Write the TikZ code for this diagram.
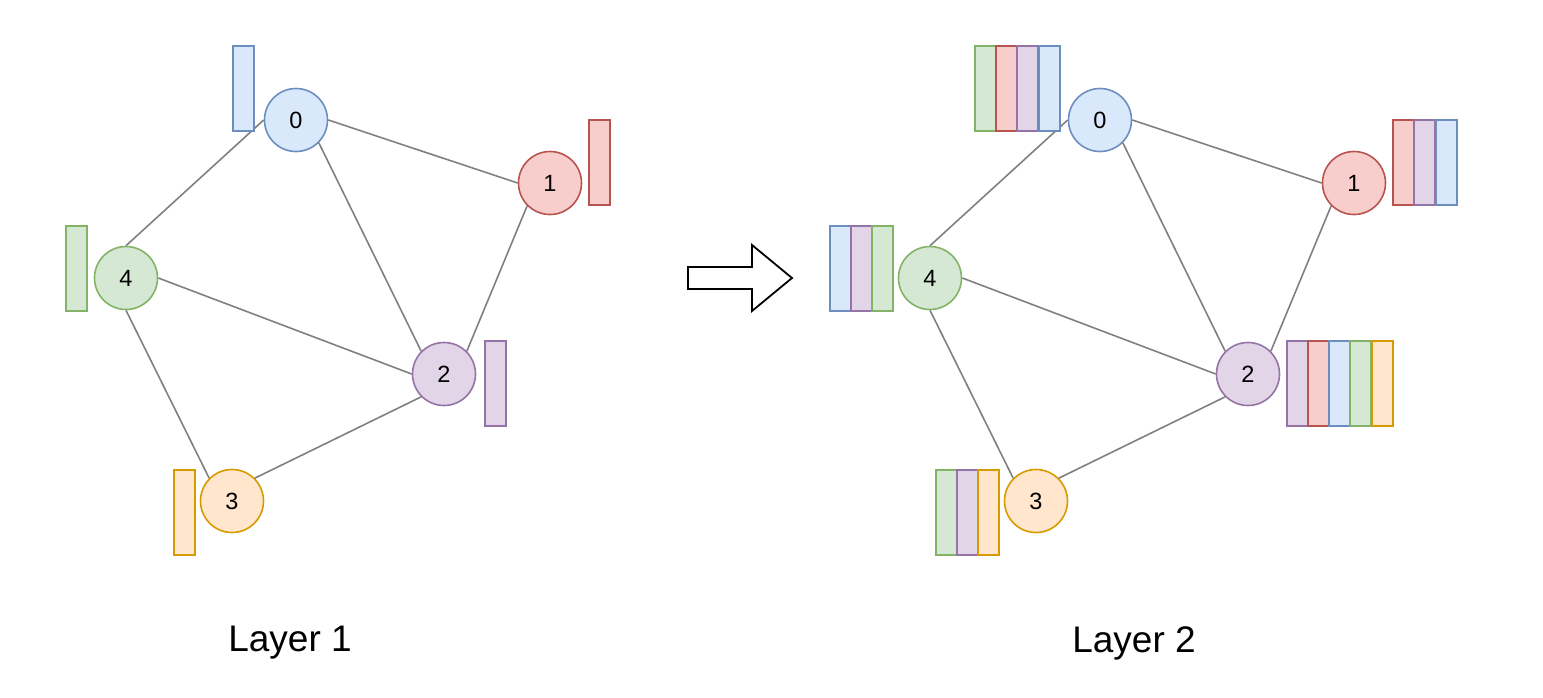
\documentclass[tikz,border=0pt]{standalone}
\usepackage{fontspec}
\setmainfont{Liberation Sans}
\definecolor{bfill}{HTML}{DAE8FC}\definecolor{bdraw}{HTML}{6C8EBF}
\definecolor{rfill}{HTML}{F8CECC}\definecolor{rdraw}{HTML}{B85450}
\definecolor{pfill}{HTML}{E1D5E7}\definecolor{pdraw}{HTML}{9673A6}
\definecolor{gfill}{HTML}{D5E8D4}\definecolor{gdraw}{HTML}{82B366}
\definecolor{ofill}{HTML}{FFE6CC}\definecolor{odraw}{HTML}{D79B00}
\definecolor{edgegray}{HTML}{808080}
\tikzset{
  vtx/.style={circle, minimum size=63pt, inner sep=0pt, line width=1.6pt, font=\fontsize{23.5}{28}\selectfont},
  vb/.style={vtx, fill=bfill, draw=bdraw},
  vr/.style={vtx, fill=rfill, draw=rdraw},
  vp/.style={vtx, fill=pfill, draw=pdraw},
  vg/.style={vtx, fill=gfill, draw=gdraw},
  vo/.style={vtx, fill=ofill, draw=odraw},
  bar/.style={rectangle, minimum width=21pt, minimum height=85pt, inner sep=0pt, line width=1.6pt, anchor=north west},
  bb/.style={bar, fill=bfill, draw=bdraw},
  br/.style={bar, fill=rfill, draw=rdraw},
  bp/.style={bar, fill=pfill, draw=pdraw},
  bg/.style={bar, fill=gfill, draw=gdraw},
  bo/.style={bar, fill=ofill, draw=odraw},
  edge/.style={draw=edgegray, line width=1.6pt},
  layer/.style={font=\fontsize{37}{44}\selectfont},
  bigarrow/.style={draw=black, fill=white, line width=1.8pt, line join=miter}
}
\begin{document}
\begin{tikzpicture}[x=1pt, y=-1pt]
\useasboundingbox (0,0) rectangle (1543,697);
% ---------- Layer 1 ----------
\node[vb] (a0) at (296,120) {0};
\node[vr] (a1) at (550,183) {1};
\node[vp] (a2) at (444,374) {2};
\node[vo] (a3) at (232,501) {3};
\node[vg] (a4) at (126,278) {4};
\draw[edge] (a0.west) -- (a4.north);
\draw[edge] (a0.east) -- (a1.west);
\draw[edge] (a0.south east) -- (a2.north west);
\draw[edge] (a1.south west) -- (a2.north east);
\draw[edge] (a4.east) -- (a2.west);
\draw[edge] (a4.south) -- (a3.north west);
\draw[edge] (a3.north east) -- (a2.south west);
\node[bb] (a0b) at (232,45) {};
\node[br] (a1b) at (588,119) {};
\node[bg] (a4b) at (65,225) {};
\node[bp] (a2b) at (484,340) {};
\node[bo] (a3b) at (173,469) {};
\node[layer] (l1) at (290,643) {Layer 1};
% ---------- arrow ----------
\draw[bigarrow] (688,267) -- (752,267) -- (752,245) -- (792,278) -- (752,311) -- (752,289) -- (688,289) -- cycle;
% ---------- Layer 2 ----------
\node[vb] (b0) at (1100,120) {0};
\node[vr] (b1) at (1354,183) {1};
\node[vp] (b2) at (1248,374) {2};
\node[vo] (b3) at (1036,501) {3};
\node[vg] (b4) at (930,278) {4};
\draw[edge] (b0.west) -- (b4.north);
\draw[edge] (b0.east) -- (b1.west);
\draw[edge] (b0.south east) -- (b2.north west);
\draw[edge] (b1.south west) -- (b2.north east);
\draw[edge] (b4.east) -- (b2.west);
\draw[edge] (b4.south) -- (b3.north west);
\draw[edge] (b3.north east) -- (b2.south west);
% node 0 bars
\node[bg] (b0g) at (974,45) {};
\node[br] (b0r) at (995,45) {};
\node[bp] (b0p) at (1016,45) {};
\node[bb] (b0b) at (1038,45) {};
% node 1 bars
\node[br] (b1r) at (1392,119) {};
\node[bp] (b1p) at (1413,119) {};
\node[bb] (b1b) at (1435,119) {};
% node 4 bars
\node[bb] (b4b) at (829,225) {};
\node[bp] (b4p) at (850,225) {};
\node[bg] (b4g) at (871,225) {};
% node 2 bars
\node[bp] (b2p) at (1286,340) {};
\node[br] (b2r) at (1307,340) {};
\node[bb] (b2b) at (1328,340) {};
\node[bg] (b2g) at (1349,340) {};
\node[bo] (b2o) at (1371,340) {};
% node 3 bars
\node[bg] (b3g) at (935,469) {};
\node[bp] (b3p) at (956,469) {};
\node[bo] (b3o) at (977,469) {};
\node[layer] (l2) at (1134,643) {Layer 2};
\end{tikzpicture}
\end{document}
